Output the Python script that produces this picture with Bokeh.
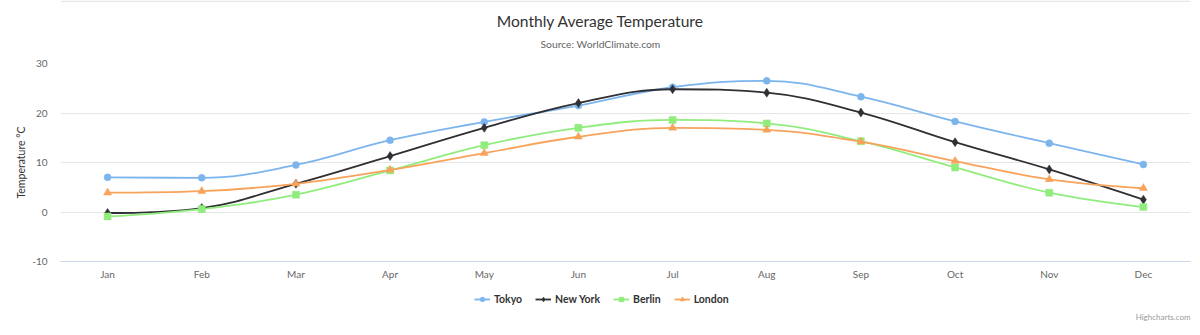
from bokeh.plotting import figure
from bokeh.layouts import column
from bokeh.models import (Legend, LegendItem, FixedTicker, Range1d, Label, Span)
from bokeh.embed import file_html
from bokeh.resources import INLINE

months = ["Jan", "Feb", "Mar", "Apr", "May", "Jun", "Jul", "Aug", "Sep", "Oct", "Nov", "Dec"]
tokyo = [7.0, 6.9, 9.5, 14.5, 18.2, 21.5, 25.2, 26.5, 23.3, 18.3, 13.9, 9.6]
new_york = [-0.2, 0.8, 5.7, 11.3, 17.0, 22.0, 24.8, 24.1, 20.1, 14.1, 8.6, 2.5]
berlin = [-0.9, 0.6, 3.5, 8.4, 13.5, 17.0, 18.6, 17.9, 14.3, 9.0, 3.9, 1.0]
london = [3.9, 4.2, 5.7, 8.5, 11.9, 15.2, 17.0, 16.6, 14.2, 10.3, 6.6, 4.8]
y_ticks = [-10, 0, 10, 20, 30]

series = [
    ("Tokyo", tokyo, "#7cb5ec", "circle", 7),
    ("New York", new_york, "#303034", "diamond", 9),
    ("Berlin", berlin, "#90ed7d", "square", 7),
    ("London", london, "#f7a35c", "triangle", 8),
]

FONT = "Lato"
W = 1200
FL, FR = 60, 1190   # frame edges in page pixels (column aligns all frames)


def spline_segments(xs, ys, smoothing=1.5):
    """Highcharts-style spline control points for each segment."""
    denom = smoothing + 1
    n = len(xs)
    right = [(xs[i], ys[i]) for i in range(n)]
    left = [(xs[i], ys[i]) for i in range(n)]
    for i in range(1, n - 1):
        px, py = xs[i], ys[i]
        lx, ly = xs[i - 1], ys[i - 1]
        nx, ny = xs[i + 1], ys[i + 1]
        lcx = (smoothing * px + lx) / denom
        lcy = (smoothing * py + ly) / denom
        rcx = (smoothing * px + nx) / denom
        rcy = (smoothing * py + ny) / denom
        corr = 0.0
        if rcx != lcx:
            corr = (rcy - lcy) * (rcx - px) / (rcx - lcx) + py - rcy
        lcy += corr
        rcy += corr
        if lcy > ly and lcy > py:
            lcy = max(ly, py)
            rcy = 2 * py - lcy
        elif lcy < ly and lcy < py:
            lcy = min(ly, py)
            rcy = 2 * py - lcy
        if rcy > ny and rcy > py:
            rcy = max(ny, py)
            lcy = 2 * py - rcy
        elif rcy < ny and rcy < py:
            rcy = min(ny, py)
            lcy = 2 * py - rcy
        left[i] = (lcx, lcy)
        right[i] = (rcx, rcy)
    seg = dict(x0=[], y0=[], x1=[], y1=[], cx0=[], cy0=[], cx1=[], cy1=[])
    for i in range(1, n):
        seg["x0"].append(xs[i - 1]); seg["y0"].append(ys[i - 1])
        seg["x1"].append(xs[i]); seg["y1"].append(ys[i])
        seg["cx0"].append(right[i - 1][0]); seg["cy0"].append(right[i - 1][1])
        seg["cx1"].append(left[i][0]); seg["cy1"].append(left[i][1])
    return seg


def blank(height):
    f = figure(width=W, height=height, output_backend="svg", toolbar_location=None,
               x_range=Range1d(FL, FR), y_range=Range1d(0, height),
               min_border_left=FL, min_border_right=W - FR, min_border_top=0,
               min_border_bottom=0, x_axis_type=None, y_axis_type=None)
    f.title = None
    f.outline_line_color = None
    f.xgrid.grid_line_color = None
    f.ygrid.grid_line_color = None
    f.background_fill_color = "white"
    f.border_fill_color = "white"
    return f


xs = list(range(len(months)))

# ---------------- header (title + subtitle) ----------------
HH = 56
hd = blank(HH)
hd.add_layout(Span(location=HH - 0.75, dimension="width", line_color="#e6e6e6", line_width=1.5))
hd.add_layout(Label(x=W / 2, y=HH - 20, text="Monthly Average Temperature",
                    text_align="center", text_baseline="middle", text_font=FONT,
                    text_font_size="15.6px", text_color="#333333"))
hd.add_layout(Label(x=W / 2, y=HH - 43, text="Source: WorldClimate.com",
                    text_align="center", text_baseline="middle", text_font=FONT,
                    text_font_size="10.3px", text_color="#666666"))

# ---------------- main chart ----------------
p = figure(width=W, height=234, output_backend="svg", toolbar_location=None,
           x_range=Range1d(-0.5, len(months) - 0.5), y_range=Range1d(-10, 30),
           min_border_left=FL, min_border_right=W - FR, min_border_top=7, min_border_bottom=29)
p.title = None
p.outline_line_color = None
p.background_fill_color = "white"
p.border_fill_color = "white"

p.xaxis.ticker = FixedTicker(ticks=xs)
p.xaxis.major_label_overrides = {i: m for i, m in enumerate(months)}
p.xaxis.axis_line_color = "#ccd6eb"
p.xaxis.major_tick_line_color = None
p.xaxis.minor_tick_line_color = None
p.xaxis.major_tick_out = 0
p.xaxis.major_label_text_color = "#666666"
p.xaxis.major_label_text_font = FONT
p.xaxis.major_label_text_font_size = "10px"
p.xaxis.major_label_standoff = 6
p.xgrid.grid_line_color = None

p.yaxis.ticker = FixedTicker(ticks=y_ticks)
p.yaxis.major_label_overrides = {t: str(t) for t in y_ticks}
p.yaxis.axis_line_color = None
p.yaxis.major_tick_line_color = None
p.yaxis.minor_tick_line_color = None
p.yaxis.major_tick_out = 0
p.yaxis.major_label_text_color = "#666666"
p.yaxis.major_label_text_font = FONT
p.yaxis.major_label_text_font_size = "10px"
p.yaxis.major_label_standoff = 13
p.yaxis.axis_label = "Temperature °C"
p.yaxis.axis_label_text_color = "#333333"
p.yaxis.axis_label_text_font = FONT
p.yaxis.axis_label_text_font_size = "10.5px"
p.yaxis.axis_label_text_font_style = "normal"
p.yaxis.axis_label_standoff = 2
p.ygrid.grid_line_color = "#e6e6e6"
p.ygrid.grid_line_width = 1

for name, vals, color, marker, size in series:
    seg = spline_segments(xs, vals)
    p.bezier(source=seg, x0="x0", y0="y0", x1="x1", y1="y1", cx0="cx0", cy0="cy0",
             cx1="cx1", cy1="cy1", line_color=color, line_width=1.8)
    p.scatter(xs, vals, marker=marker, size=size, fill_color=color, line_color=color,
              line_width=0.5)

# ---------------- legend strip + credit ----------------
LH = 45
lg = blank(LH)
lg.extra_x_ranges = {"hid": Range1d(100, 101)}
lg.extra_y_ranges = {"hid": Range1d(100, 101)}

items = []
for name, vals, color, marker, size in series:
    ln = lg.line(xs, vals, line_color=color, line_width=1.8,
                 x_range_name="hid", y_range_name="hid")
    sc = lg.scatter(xs, vals, marker=marker, size=size, fill_color=color, line_color=color,
                    line_width=0.5, x_range_name="hid", y_range_name="hid")
    items.append(LegendItem(label=name, renderers=[ln, sc]))

legend = Legend(items=items, orientation="horizontal", location=(474 - FL, 30),
                border_line_color=None, background_fill_alpha=0,
                label_text_font=FONT, label_text_font_size="10.5px",
                label_text_font_style="bold", label_text_color="#333333",
                glyph_width=16, glyph_height=12, spacing=13, label_standoff=4,
                padding=0, margin=0)
lg.add_layout(legend, "center")

lg.add_layout(Label(x=FR, y=LH - 26, text="Highcharts.com", text_align="right",
                    text_baseline="middle", text_font=FONT, text_font_size="8px",
                    text_color="#999999"))

layout = column(hd, p, lg, spacing=0)
open("out.html", "w").write(file_html(layout, INLINE))
